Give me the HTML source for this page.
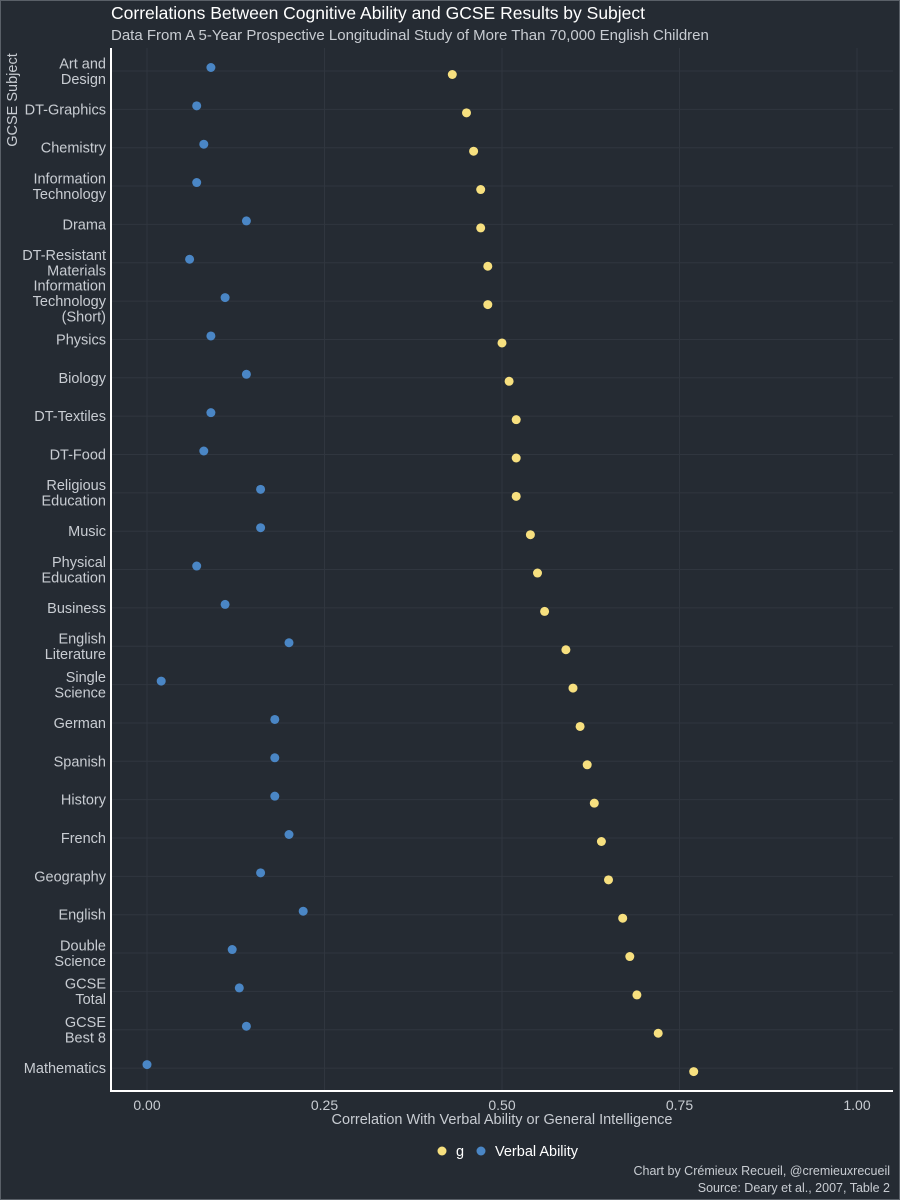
<!DOCTYPE html>
<html><head><meta charset="utf-8"><style>
body{margin:0;background:#252b33}
svg{display:block;font-family:"Liberation Sans",sans-serif}
</style></head><body>
<svg id="c" width="900" height="1200" viewBox="0 0 900 1200">
<rect x="0.5" y="0.5" width="899" height="1199" fill="#252b33" stroke="#5a6068"/>
<text x="111" y="19" font-size="17.5" fill="#ffffff">Correlations Between Cognitive Ability and GCSE Results by Subject</text>
<text x="111" y="40" font-size="15" fill="#c8ccd2">Data From A 5-Year Prospective Longitudinal Study of More Than 70,000 English Children</text>
<g id="grid"></g><g id="marks"></g><g id="ylab"></g><g id="xlab"></g>
<line x1="111" y1="48" x2="111" y2="1091" stroke="#fff" stroke-width="2"/>
<line x1="110" y1="1091" x2="893" y2="1091" stroke="#fff" stroke-width="2"/>
<text transform="translate(17,100) rotate(-90)" text-anchor="middle" font-size="14.5" fill="#c8ccd2">GCSE Subject</text>
<text x="502" y="1124" text-anchor="middle" font-size="14.5" fill="#c8ccd2">Correlation With Verbal Ability or General Intelligence</text>
<g>
<circle cx="442" cy="1151" r="4.5" fill="#f7e07f"/>
<text x="456" y="1156" font-size="14.5" fill="#fff">g</text>
<circle cx="481" cy="1151" r="4.5" fill="#4a86c5"/>
<text x="495" y="1156" font-size="14.5" fill="#fff">Verbal Ability</text>
</g>
<text x="890" y="1175" text-anchor="end" font-size="12.5" fill="#c8ccd2">Chart by Crémieux Recueil, @cremieuxrecueil</text>
<text x="890" y="1192" text-anchor="end" font-size="12.5" fill="#c8ccd2">Source: Deary et al., 2007, Table 2</text>
</svg>
<script>
const subjects=[["Art and","Design"],["DT-Graphics"],["Chemistry"],["Information","Technology"],["Drama"],["DT-Resistant","Materials"],["Information","Technology","(Short)"],["Physics"],["Biology"],["DT-Textiles"],["DT-Food"],["Religious","Education"],["Music"],["Physical","Education"],["Business"],["English","Literature"],["Single","Science"],["German"],["Spanish"],["History"],["French"],["Geography"],["English"],["Double","Science"],["GCSE","Total"],["GCSE","Best 8"],["Mathematics"]];
const gValues=[0.43,0.45,0.46,0.47,0.47,0.48,0.48,0.50,0.51,0.52,0.52,0.52,0.54,0.55,0.56,0.59,0.60,0.61,0.62,0.63,0.64,0.65,0.67,0.68,0.69,0.72,0.77];
const verbalValues=[0.09,0.07,0.08,0.07,0.14,0.06,0.11,0.09,0.14,0.09,0.08,0.16,0.16,0.07,0.11,0.20,0.02,0.18,0.18,0.18,0.20,0.16,0.22,0.12,0.13,0.14,0.00];
const xTicks=[0,0.25,0.5,0.75,1];
const xTickLabels=["0.00","0.25","0.50","0.75","1.00"];
const NS="http://www.w3.org/2000/svg";
const x=v=>147+v*710;
const y=i=>71+i*38.35;
function mk(t,a,p){const e=document.createElementNS(NS,t);for(const k in a)e.setAttribute(k,a[k]);p.appendChild(e);return e;}
const grid=document.getElementById('grid'),marks=document.getElementById('marks'),yl=document.getElementById('ylab'),xl=document.getElementById('xlab');
xTicks.forEach((t,i)=>{
 const l=mk('line',{x1:x(t),x2:x(t),y1:48,y2:1091,stroke:'#30363f','stroke-width':1},grid);
 
 
 const tx=mk('text',{x:x(t),y:1110,'text-anchor':'middle','font-size':14,fill:'#c8ccd2'},xl);
 tx.textContent=xTickLabels[i];
 
 
});
subjects.forEach((s,i)=>{
 const l=mk('line',{x1:111,x2:893,y1:y(i),y2:y(i),stroke:'#30363f','stroke-width':1},grid);
 
 
 const n=s.length,lh=15.5,y0=y(i)+5-(n-1)*lh/2;
 const t=mk('text',{'text-anchor':'end','font-size':14.5,fill:'#c8ccd2'},yl);
 
 
 s.forEach((w,j)=>{const ts=mk('tspan',{x:106,y:y0+j*lh},t);ts.textContent=w;});
 const b=mk('circle',{cx:x(verbalValues[i]),cy:y(i)-3.5,r:4.5,fill:'#4a86c5'},marks);
 
 
 const g=mk('circle',{cx:x(gValues[i]),cy:y(i)+3.5,r:4.5,fill:'#f7e07f'},marks);
 
 
});
</script>
</body></html>
